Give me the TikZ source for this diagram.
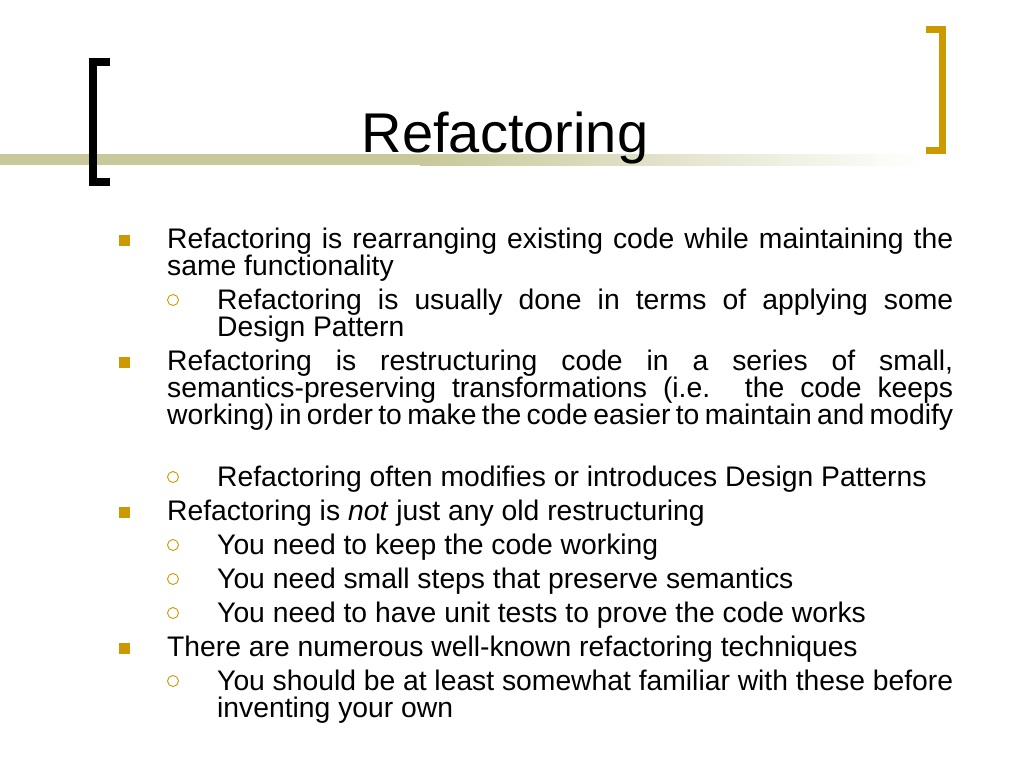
\documentclass[tikz,border=0pt]{standalone}
\usepackage{fontspec}
\setmainfont{Liberation Sans}
\definecolor{gold}{HTML}{CC9900}
\definecolor{olive}{HTML}{C8C89A}
\newcommand{\pA}[1]{\parbox[t]{786pt}{\hyphenpenalty=10000\exhyphenpenalty=10000\tolerance=9999\emergencystretch=3em #1}}
\newcommand{\pB}[1]{\parbox[t]{736pt}{\hyphenpenalty=10000\exhyphenpenalty=10000\tolerance=9999\emergencystretch=3em #1}}
\begin{document}
\begin{tikzpicture}[x=1pt,y=-1pt,
  txt/.style={anchor=base west,inner sep=0pt,font=\fontsize{28.3}{27.3}\selectfont},
  sq/.style={fill=gold,minimum size=11pt,inner sep=0pt},
  circ/.style={draw=gold,line width=0.9pt,circle,minimum size=11pt,inner sep=0pt}]
\useasboundingbox (0,0) rectangle (1024,768);
\fill[olive] (0,154) rectangle (420,165);
\shade[left color=olive,right color=white] (420,154) rectangle (925,165);
\draw[line width=8pt] (110,62) -- (93,62) -- (93,182) -- (110,182);
\draw[gold,line width=7pt] (926,30) -- (942,30) -- (942,150) -- (926,150);
\node[anchor=base,inner sep=0pt,font=\fontsize{56}{60}\selectfont] (title) at (505,152) {Refactoring};
\node[sq] (b1) at (124,240) {};
\node[txt] (t1) at (167,248) {\pA{Refactoring is rearranging existing code while maintaining the same functionality}};
\node[circ] (c1) at (173,300) {};
\node[txt] (s1) at (217,309) {\pB{Refactoring is usually done in terms of applying some Design Pattern}};
\node[sq] (b2) at (124,362) {};
\node[txt] (t2) at (167,370) {\pA{Refactoring is restructuring code in a series of small, semantics-preserving transformations (i.e. the code keeps working) in order to make the code easier to maintain and modify}};
\node[circ] (c2) at (173,477) {};
\node[txt] (s2) at (217,486) {\pB{Refactoring often modifies or introduces Design Patterns}};
\node[sq] (b3) at (124,512) {};
\node[txt] (t3) at (167,520) {\pA{Refactoring is \emph{not} just any old restructuring}};
\node[circ] (c3) at (173,545) {};
\node[txt] (s3) at (217,554) {\pB{You need to keep the code working}};
\node[circ] (c4) at (173,579) {};
\node[txt] (s4) at (217,588) {\pB{You need small steps that preserve semantics}};
\node[circ] (c5) at (173,613) {};
\node[txt] (s5) at (217,622) {\pB{You need to have unit tests to prove the code works}};
\node[sq] (b4) at (124,648) {};
\node[txt] (t4) at (167,656) {\pA{There are numerous well-known refactoring techniques}};
\node[circ] (c6) at (173,681) {};
\node[txt] (s6) at (217,690) {\pB{You should be at least somewhat familiar with these before inventing your own}};
\end{tikzpicture}
\end{document}
